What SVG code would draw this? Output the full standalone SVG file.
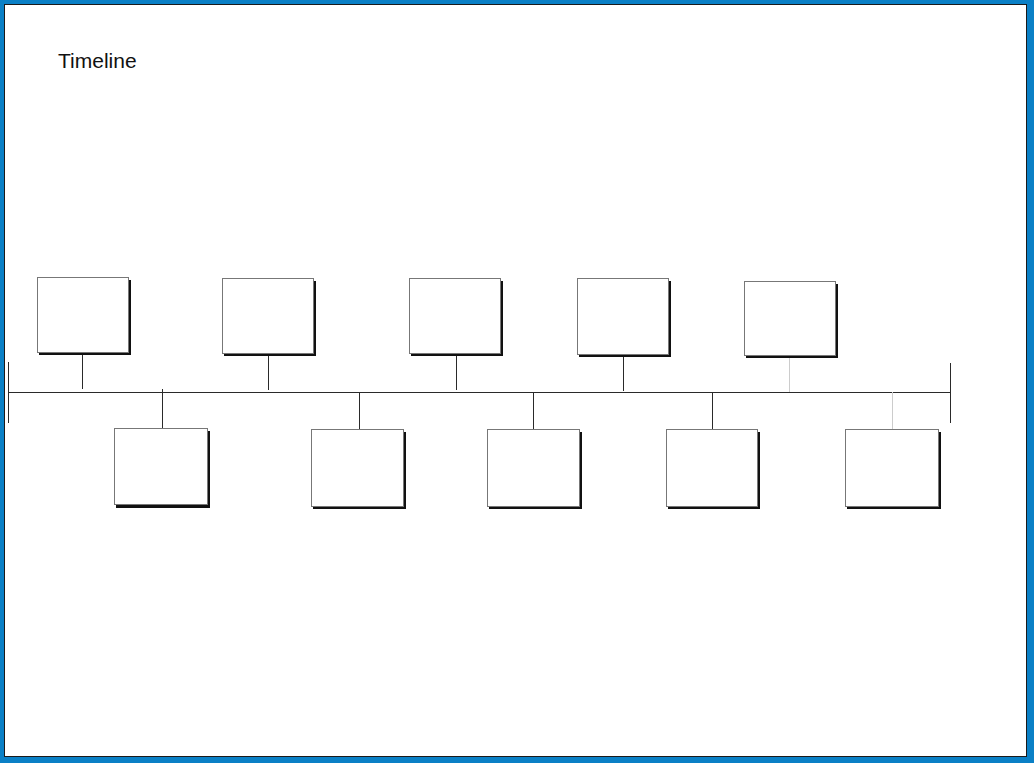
<svg xmlns="http://www.w3.org/2000/svg" width="1034" height="763" viewBox="0 0 1034 763">
<style>
.frame{fill:#0a80c6}
.page{fill:#fff;stroke:#1a1a1a;stroke-width:1}
.shadow{fill:#111}
.box{fill:#fff;stroke:#777;stroke-width:1}
.ln{stroke:#2a2a2a;stroke-width:1;fill:none}
.faint{stroke:#ccc;stroke-width:1;fill:none}
.title{font-family:"Liberation Sans",Arial,sans-serif;font-size:21px;fill:#111}
</style>
<rect class="frame" x="0" y="0" width="1034" height="763"/>
<rect class="page" x="4.5" y="4.5" width="1022" height="752"/>
<text class="title" x="58" y="68">Timeline</text>
<g id="connectors">
<line class="ln" x1="8" y1="392.5" x2="950" y2="392.5"/>
<line class="ln" x1="8.5" y1="362" x2="8.5" y2="423"/>
<line class="ln" x1="950.5" y1="363" x2="950.5" y2="423"/>
<line class="ln" x1="82.5" y1="353" x2="82.5" y2="389"/>
<line class="ln" x1="268.5" y1="354" x2="268.5" y2="390"/>
<line class="ln" x1="456.5" y1="354" x2="456.5" y2="390"/>
<line class="ln" x1="623.5" y1="355" x2="623.5" y2="391"/>
<line class="faint" x1="789.5" y1="357" x2="789.5" y2="392"/>
<line class="ln" x1="162.5" y1="389" x2="162.5" y2="428"/>
<line class="ln" x1="359.5" y1="392" x2="359.5" y2="429"/>
<line class="ln" x1="533.5" y1="392" x2="533.5" y2="429"/>
<line class="ln" x1="712.5" y1="392" x2="712.5" y2="429"/>
<line class="faint" x1="892.5" y1="392" x2="892.5" y2="429"/>
</g>
<g id="top1"><rect class="shadow" x="39" y="280" width="92" height="75"/><rect class="box" x="37.5" y="277.5" width="91" height="75"/></g>
<g id="top2"><rect class="shadow" x="224" y="281" width="92" height="75"/><rect class="box" x="222.5" y="278.5" width="91" height="75"/></g>
<g id="top3"><rect class="shadow" x="411" y="281" width="92" height="75"/><rect class="box" x="409.5" y="278.5" width="91" height="75"/></g>
<g id="top4"><rect class="shadow" x="579" y="281" width="92" height="76"/><rect class="box" x="577.5" y="278.5" width="91" height="76"/></g>
<g id="top5"><rect class="shadow" x="746" y="284" width="92" height="74"/><rect class="box" x="744.5" y="281.5" width="91" height="74"/></g>
<g id="bottom1"><rect class="shadow" x="116" y="431" width="94" height="77"/><rect class="box" x="114.5" y="428.5" width="93" height="76"/></g>
<g id="bottom2"><rect class="shadow" x="313" y="432" width="93" height="77"/><rect class="box" x="311.5" y="429.5" width="92" height="77"/></g>
<g id="bottom3"><rect class="shadow" x="489" y="432" width="93" height="77"/><rect class="box" x="487.5" y="429.5" width="92" height="77"/></g>
<g id="bottom4"><rect class="shadow" x="668" y="432" width="92" height="77"/><rect class="box" x="666.5" y="429.5" width="91" height="77"/></g>
<g id="bottom5"><rect class="shadow" x="847" y="432" width="94" height="77"/><rect class="box" x="845.5" y="429.5" width="93" height="77"/></g>
</svg>
